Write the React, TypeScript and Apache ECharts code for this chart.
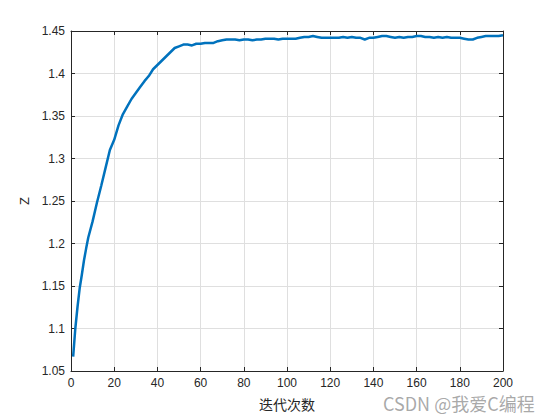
import React, { useEffect, useRef } from "react";
import * as echarts from "echarts";

const iterations = [
  1, 2, 3, 4, 5, 6, 7, 8, 10, 12, 14, 16, 18, 20, 22, 24, 26, 28, 30, 32, 34, 36, 38, 40,
  42, 44, 46, 48, 50, 52, 54, 56, 58, 60, 62, 64, 66, 68, 70, 72, 74, 76, 78, 80, 82, 84,
  86, 88, 90, 92, 94, 96, 98, 100, 102, 104, 106, 108, 110, 112, 114, 116, 118, 120, 122,
  124, 126, 128, 130, 132, 134, 136, 138, 140, 142, 144, 146, 148, 150, 152, 154, 156, 158,
  160, 162, 164, 166, 168, 170, 172, 174, 176, 178, 180, 182, 184, 186, 188, 190, 192, 194,
  196, 198, 200,
];

const zValues = [
  1.067, 1.1, 1.125, 1.147, 1.163, 1.18, 1.194, 1.207, 1.226, 1.248, 1.268, 1.289, 1.31,
  1.322, 1.339, 1.352, 1.361, 1.37, 1.377, 1.384, 1.391, 1.397, 1.405, 1.41, 1.415, 1.42,
  1.425, 1.43, 1.432, 1.434, 1.434, 1.433, 1.435, 1.435, 1.436, 1.436, 1.436, 1.438, 1.439,
  1.44, 1.44, 1.44, 1.439, 1.44, 1.44, 1.439, 1.44, 1.44, 1.441, 1.441, 1.441, 1.44, 1.441,
  1.441, 1.441, 1.441, 1.442, 1.443, 1.443, 1.444, 1.443, 1.442, 1.442, 1.442, 1.442, 1.442,
  1.443, 1.442, 1.443, 1.442, 1.442, 1.44, 1.442, 1.442, 1.443, 1.444, 1.444, 1.443, 1.442,
  1.443, 1.442, 1.443, 1.443, 1.444, 1.444, 1.443, 1.443, 1.442, 1.443, 1.442, 1.443, 1.442,
  1.442, 1.442, 1.441, 1.44, 1.44, 1.442, 1.443, 1.444, 1.444, 1.444, 1.444, 1.445,
];

const xLabel = "迭代次数";
const yLabel = "Z";
const watermark = "CSDN @我爱C编程";

export default function App() {
  const ref = useRef<HTMLDivElement>(null);
  useEffect(() => {
    if (!ref.current) return;
    const chart = echarts.init(ref.current, null, { renderer: "svg" });
    const axisColor = "#262626";
    const font = "'Liberation Sans', Arial, sans-serif";
    const data = iterations.map((x, i) => [x, zValues[i]]);
    chart.setOption({
      animation: false,
      backgroundColor: "#ffffff",
      grid: { left: 71, top: 31, width: 432, height: 340, containLabel: false },
      xAxis: [
        {
          type: "value",
          min: 0,
          max: 200,
          interval: 20,
          position: "bottom",
          name: xLabel,
          nameLocation: "middle",
          nameGap: 26,
          nameTextStyle: { color: axisColor, fontSize: 14, fontFamily: "'Noto Sans CJK SC', sans-serif" },
          axisLine: { show: true, onZero: false, lineStyle: { color: axisColor, width: 1 } },
          axisTick: { show: true, inside: true, length: 4, lineStyle: { color: axisColor } },
          axisLabel: { color: axisColor, fontSize: 12, fontFamily: font, margin: 6 },
          splitLine: { show: true, lineStyle: { color: "#dfdfdf", width: 1 } },
        },
        {
          type: "value",
          min: 0,
          max: 200,
          interval: 20,
          position: "top",
          axisLine: { show: true, onZero: false, lineStyle: { color: axisColor, width: 1 } },
          axisTick: { show: true, inside: true, length: 4, lineStyle: { color: axisColor } },
          axisLabel: { show: false },
          splitLine: { show: false },
        },
      ],
      yAxis: [
        {
          type: "value",
          min: 1.05,
          max: 1.45,
          interval: 0.05,
          position: "left",
          name: yLabel,
          nameLocation: "middle",
          nameGap: 40,
          nameRotate: 90,
          nameTextStyle: { color: axisColor, fontSize: 13, fontFamily: font },
          axisLine: { show: true, onZero: false, lineStyle: { color: axisColor, width: 1 } },
          axisTick: { show: true, inside: true, length: 4, lineStyle: { color: axisColor } },
          axisLabel: {
            color: axisColor,
            fontSize: 12,
            fontFamily: font,
            margin: 6,
            formatter: (v: number) => String(parseFloat(v.toFixed(2))),
          },
          splitLine: { show: true, lineStyle: { color: "#dfdfdf", width: 1 } },
        },
        {
          type: "value",
          min: 1.05,
          max: 1.45,
          interval: 0.05,
          position: "right",
          axisLine: { show: true, onZero: false, lineStyle: { color: axisColor, width: 1 } },
          axisTick: { show: true, inside: true, length: 4, lineStyle: { color: axisColor } },
          axisLabel: { show: false },
          splitLine: { show: false },
        },
      ],
      series: [
        {
          type: "line",
          xAxisIndex: 0,
          yAxisIndex: 0,
          data,
          showSymbol: false,
          smooth: false,
          lineStyle: { color: "#0072BD", width: 2.5 },
        },
      ],
      graphic: [
        {
          type: "text",
          left: 383,
          top: 394,
          style: {
            text: watermark,
            fontSize: 18,
            lineHeight: 18,
            fontFamily: "'Noto Sans CJK SC', 'Liberation Sans', sans-serif",
            fill: "#9a9a9a",
            opacity: 0.85,
          },
        },
      ],
    });
    return () => chart.dispose();
  }, []);
  return (
    <div
      ref={ref}
      style={{ position: "fixed", left: 0, top: 0, width: 557, height: 420 }}
    />
  );
}
